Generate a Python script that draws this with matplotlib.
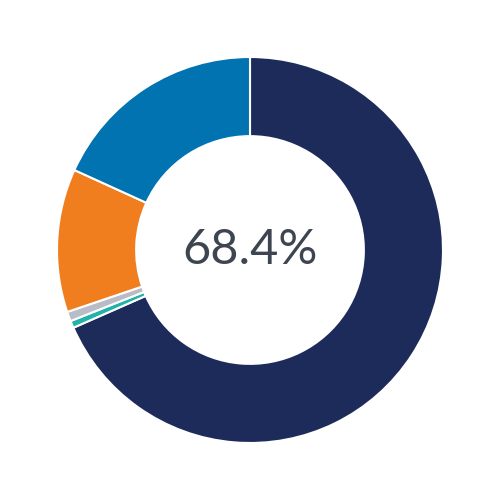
import matplotlib
matplotlib.use("Agg")
import matplotlib.pyplot as plt

# slice shares, clockwise from 12 o'clock
labels = ["Navy", "Teal", "Grey", "Orange", "Blue"]
values = [68.4, 0.6, 0.8, 12.0, 18.2]
colors = ["#1c2b5a", "#1fb3aa", "#b9bcc6", "#f07e1f", "#0073b0"]
center_text = "68.4%"

fig = plt.figure(figsize=(5, 5), dpi=100)
ax = fig.add_axes([0, 0, 1, 1])

ax.pie(values, colors=colors, startangle=90, counterclock=False,
       radius=1.0,
       wedgeprops=dict(width=0.41, edgecolor="white", linewidth=1.5))

ax.text(0, 0, center_text, ha="center", va="center", fontsize=35,
        color="#3d4550", family=["Lato", "DejaVu Sans"])

lim = 250 / 193
ax.set_xlim(-lim, lim)
ax.set_ylim(-lim, lim)
ax.set_aspect("equal")
ax.axis("off")

fig.savefig("out.png", dpi=100, facecolor="white")
